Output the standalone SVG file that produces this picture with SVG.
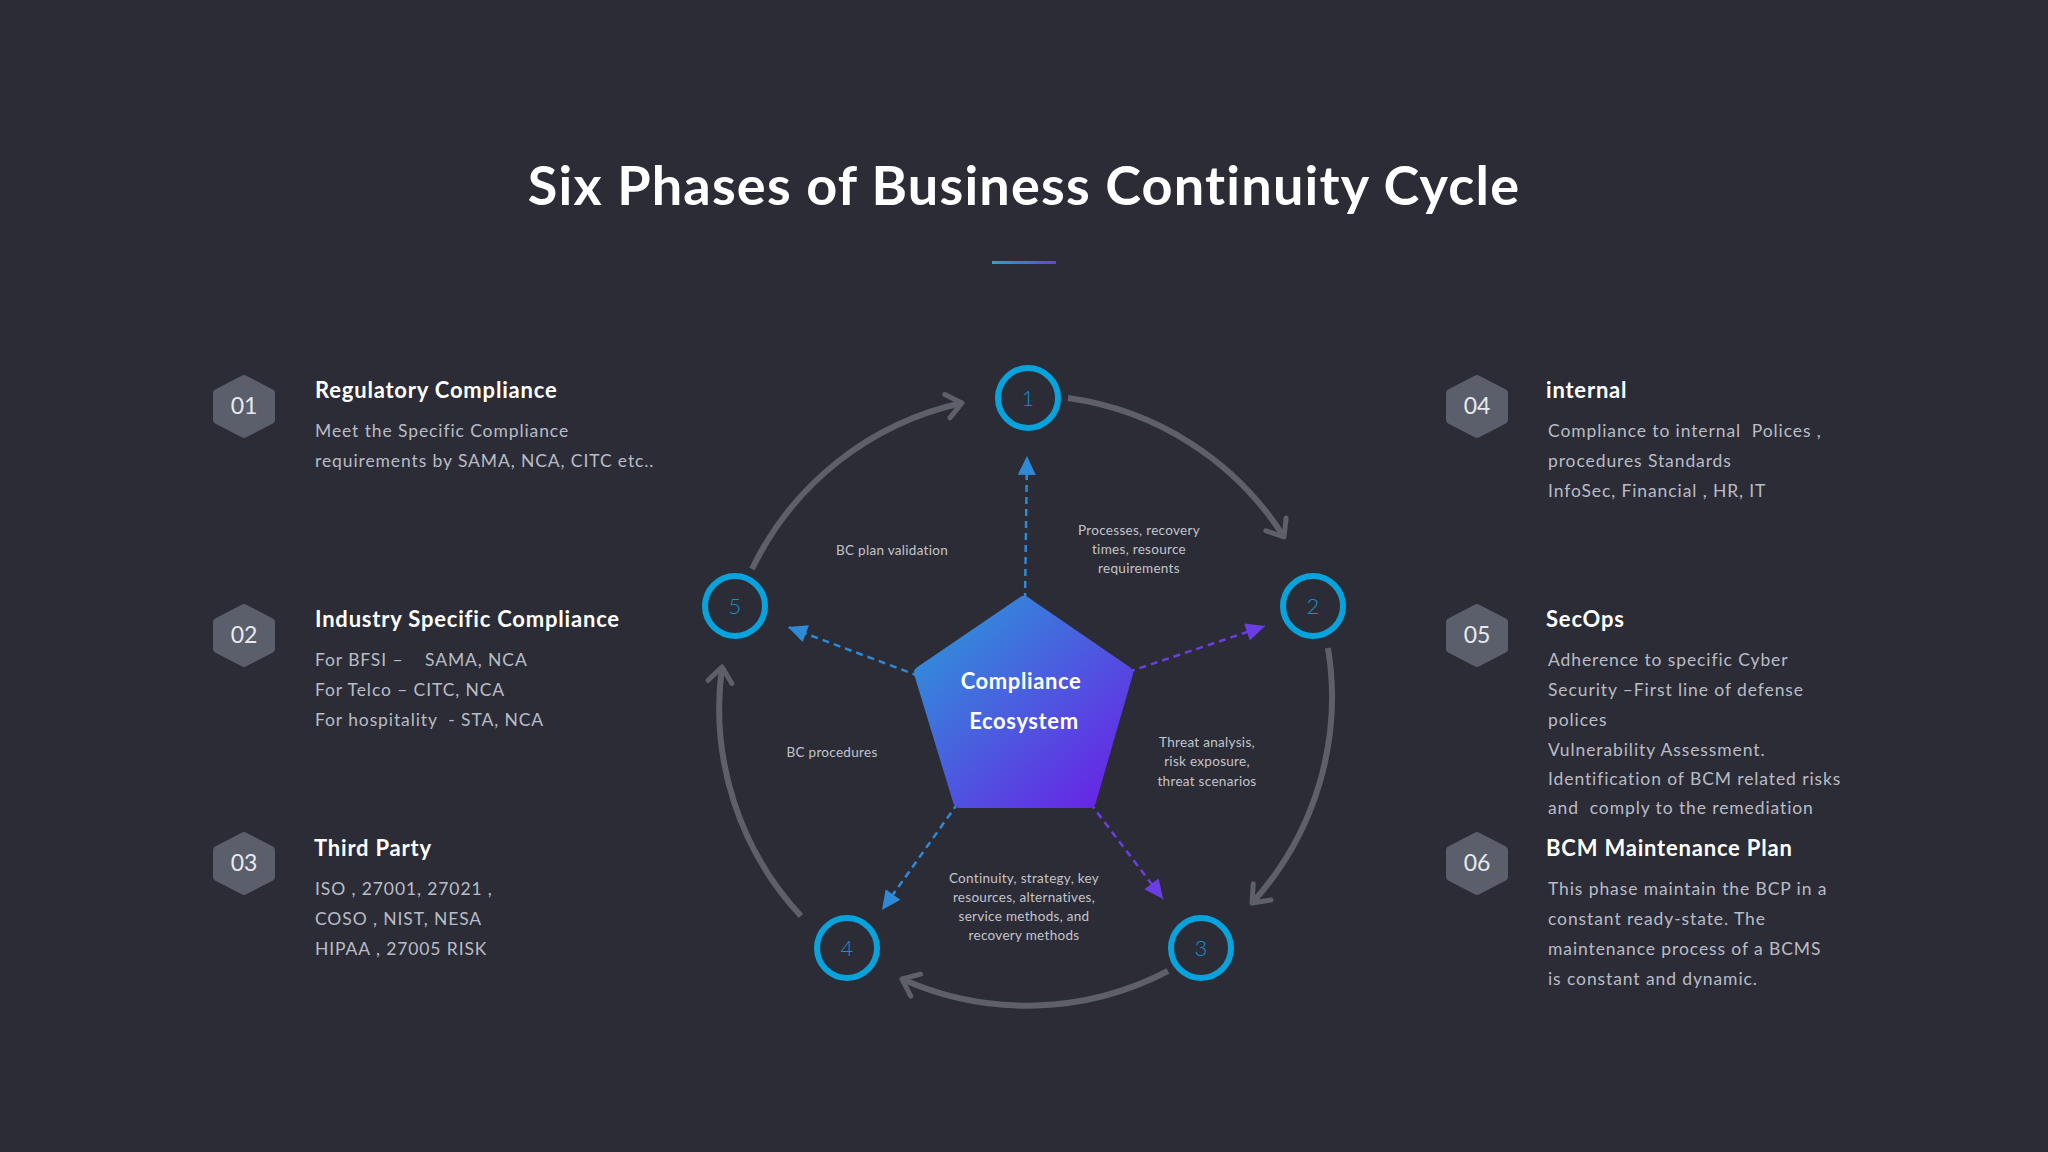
<svg xmlns="http://www.w3.org/2000/svg" width="2048" height="1152" viewBox="0 0 2048 1152">
<style>
.t{font-family:Lato,"Liberation Sans",sans-serif;}
.h{font-family:Lato,"Liberation Sans",sans-serif;font-weight:700;font-size:22px;fill:#ffffff;letter-spacing:0.8px;}
.b{font-family:Lato,"Liberation Sans",sans-serif;font-size:17.5px;fill:#b9bcc6;letter-spacing:0.9px;}
.hexn{font-family:Lato,"Liberation Sans",sans-serif;font-size:23px;fill:#e8e9ee;text-anchor:middle;}
.hex{fill:#5a5f6b;stroke:#5a5f6b;stroke-width:8;stroke-linejoin:round;}
.node{fill:none;stroke:#07a3dc;stroke-width:6;}
.nn{font-family:Lato,"Liberation Sans",sans-serif;font-size:22px;font-weight:300;fill:#1591cc;text-anchor:middle;}
.arc{fill:none;stroke:#5d6069;stroke-width:6;marker-end:url(#chev);}
.db{fill:none;stroke:#2e8ad6;stroke-width:2.5;stroke-dasharray:7 5;marker-end:url(#tb);}
.dp{fill:none;stroke:#6a3ee2;stroke-width:2.5;stroke-dasharray:7 5;marker-end:url(#tp);}
.lb{font-family:Lato,"Liberation Sans",sans-serif;font-size:13.5px;fill:#c3c5cd;text-anchor:middle;letter-spacing:0.3px;}
</style>
<defs>
<marker id="chev" markerUnits="userSpaceOnUse" viewBox="-20 -15 24 30" refX="0" refY="0" markerWidth="24" markerHeight="30" orient="auto">
<path d="M-15,-12 L0,0 L-15,12" fill="none" stroke="#5d6069" stroke-width="5" stroke-linecap="round" stroke-linejoin="round"/>
</marker>
<marker id="tb" markerUnits="userSpaceOnUse" viewBox="-20 -11 22 22" refX="0" refY="0" markerWidth="22" markerHeight="22" orient="auto">
<path d="M0,0 L-19,-9 L-19,9 z" fill="#2e8ad6"/>
</marker>
<marker id="tp" markerUnits="userSpaceOnUse" viewBox="-20 -11 22 22" refX="0" refY="0" markerWidth="22" markerHeight="22" orient="auto">
<path d="M0,0 L-19,-9 L-19,9 z" fill="#6a3ee2"/>
</marker>
<linearGradient id="pg" x1="0" y1="0" x2="1" y2="1">
<stop offset="0" stop-color="#2a9ad8"/>
<stop offset="1" stop-color="#6b1fe6"/>
</linearGradient>
<linearGradient id="ul" x1="0" y1="0" x2="1" y2="0">
<stop offset="0" stop-color="#1aa8e0"/>
<stop offset="1" stop-color="#6a3ee2"/>
</linearGradient>
</defs>
<rect width="2048" height="1152" fill="#2b2c35"/>
<text class="t" x="1024" y="205" font-size="54" font-weight="700" fill="#ffffff" text-anchor="middle" letter-spacing="1.2">Six Phases of Business Continuity Cycle</text>
<rect x="992" y="261" width="64" height="3" fill="url(#ul)"/>

<g id="connectors">
<path class="arc" d="M1068,398 A305,305 0 0 1 1284,537"/>
<path class="arc" d="M1328,648 A305,305 0 0 1 1252,903"/>
<path class="arc" d="M1168,971 A305,305 0 0 1 902,979"/>
<path class="arc" d="M801,916 A305,305 0 0 1 722,667"/>
<path class="arc" d="M752,569 A305,305 0 0 1 962,403"/>
<path class="db" d="M1025,600 L1027,456"/>
<path class="dp" d="M1128,672 L1265,626"/>
<path class="dp" d="M1090,803 L1163,899"/>
<path class="db" d="M958,803 L882,910"/>
<path class="db" d="M919,676 L788,627"/>
</g>

<g id="center">
<path d="M1024,603 L1126,673 L1089,801 L960,801 L921,673 Z" fill="url(#pg)" stroke="url(#pg)" stroke-width="14" stroke-linejoin="round"/>
<text class="t" x="1021" y="689" font-size="22" font-weight="700" fill="#ffffff" text-anchor="middle" letter-spacing="0.6">Compliance</text>
<text class="t" x="1024" y="729" font-size="22" font-weight="700" fill="#ffffff" text-anchor="middle" letter-spacing="0.6">Ecosystem</text>
</g>

<g id="node1"><circle class="node" cx="1028" cy="398" r="30"/><text class="nn" x="1028" y="406">1</text></g>
<g id="node2"><circle class="node" cx="1313" cy="606" r="30"/><text class="nn" x="1313" y="614">2</text></g>
<g id="node3"><circle class="node" cx="1201" cy="948" r="30"/><text class="nn" x="1201" y="956">3</text></g>
<g id="node4"><circle class="node" cx="847" cy="948" r="30"/><text class="nn" x="847" y="956">4</text></g>
<g id="node5"><circle class="node" cx="735" cy="606" r="30"/><text class="nn" x="735" y="614">5</text></g>

<g id="labels">
<text class="lb" x="1139" y="535">Processes, recovery</text>
<text class="lb" x="1139" y="554">times, resource</text>
<text class="lb" x="1139" y="573">requirements</text>
<text class="lb" x="892" y="555">BC plan validation</text>
<text class="lb" x="1207" y="747">Threat analysis,</text>
<text class="lb" x="1207" y="766">risk exposure,</text>
<text class="lb" x="1207" y="786">threat scenarios</text>
<text class="lb" x="832" y="757">BC procedures</text>
<text class="lb" x="1024" y="883">Continuity, strategy, key</text>
<text class="lb" x="1024" y="902">resources, alternatives,</text>
<text class="lb" x="1024" y="921">service methods, and</text>
<text class="lb" x="1024" y="940">recovery methods</text>
</g>

<g id="item01">
<path class="hex" d="M244,379 L271,393 L271,420 L244,434 L217,420 L217,393 Z"/>
<text class="hexn" x="244" y="414">01</text>
<text class="h" x="315" y="398">Regulatory Compliance</text>
<text class="b" x="315" y="437">Meet the Specific Compliance</text>
<text class="b" x="315" y="467">requirements by SAMA, NCA, CITC etc..</text>
</g>
<g id="item02">
<path class="hex" d="M244,608 L271,622 L271,649 L244,663 L217,649 L217,622 Z"/>
<text class="hexn" x="244" y="643">02</text>
<text class="h" x="315" y="627">Industry Specific Compliance</text>
<text class="b" x="315" y="666" xml:space="preserve">For BFSI –    SAMA, NCA</text>
<text class="b" x="315" y="696">For Telco – CITC, NCA</text>
<text class="b" x="315" y="726" xml:space="preserve">For hospitality  - STA, NCA</text>
</g>
<g id="item03">
<path class="hex" d="M244,836 L271,850 L271,877 L244,891 L217,877 L217,850 Z"/>
<text class="hexn" x="244" y="871">03</text>
<text class="h" x="314" y="856">Third Party</text>
<text class="b" x="315" y="895">ISO , 27001, 27021 ,</text>
<text class="b" x="315" y="925">COSO , NIST, NESA</text>
<text class="b" x="315" y="955">HIPAA , 27005 RISK</text>
</g>
<g id="item04">
<path class="hex" d="M1477,379 L1504,393 L1504,420 L1477,434 L1450,420 L1450,393 Z"/>
<text class="hexn" x="1477" y="414">04</text>
<text class="h" x="1546" y="398">internal</text>
<text class="b" x="1548" y="437" xml:space="preserve">Compliance to internal  Polices ,</text>
<text class="b" x="1548" y="467">procedures Standards</text>
<text class="b" x="1548" y="497">InfoSec, Financial , HR, IT</text>
</g>
<g id="item05">
<path class="hex" d="M1477,608 L1504,622 L1504,649 L1477,663 L1450,649 L1450,622 Z"/>
<text class="hexn" x="1477" y="643">05</text>
<text class="h" x="1546" y="627">SecOps</text>
<text class="b" x="1548" y="666">Adherence to specific Cyber</text>
<text class="b" x="1548" y="696">Security –First line of defense</text>
<text class="b" x="1548" y="726">polices</text>
<text class="b" x="1548" y="756">Vulnerability Assessment.</text>
<text class="b" x="1548" y="785">Identification of BCM related risks</text>
<text class="b" x="1548" y="814" xml:space="preserve">and  comply to the remediation</text>
</g>
<g id="item06">
<path class="hex" d="M1477,836 L1504,850 L1504,877 L1477,891 L1450,877 L1450,850 Z"/>
<text class="hexn" x="1477" y="871">06</text>
<text class="h" x="1546" y="856">BCM Maintenance Plan</text>
<text class="b" x="1548" y="895">This phase maintain the BCP in a</text>
<text class="b" x="1548" y="925">constant ready-state. The</text>
<text class="b" x="1548" y="955">maintenance process of a BCMS</text>
<text class="b" x="1548" y="985">is constant and dynamic.</text>
</g>
</svg>
